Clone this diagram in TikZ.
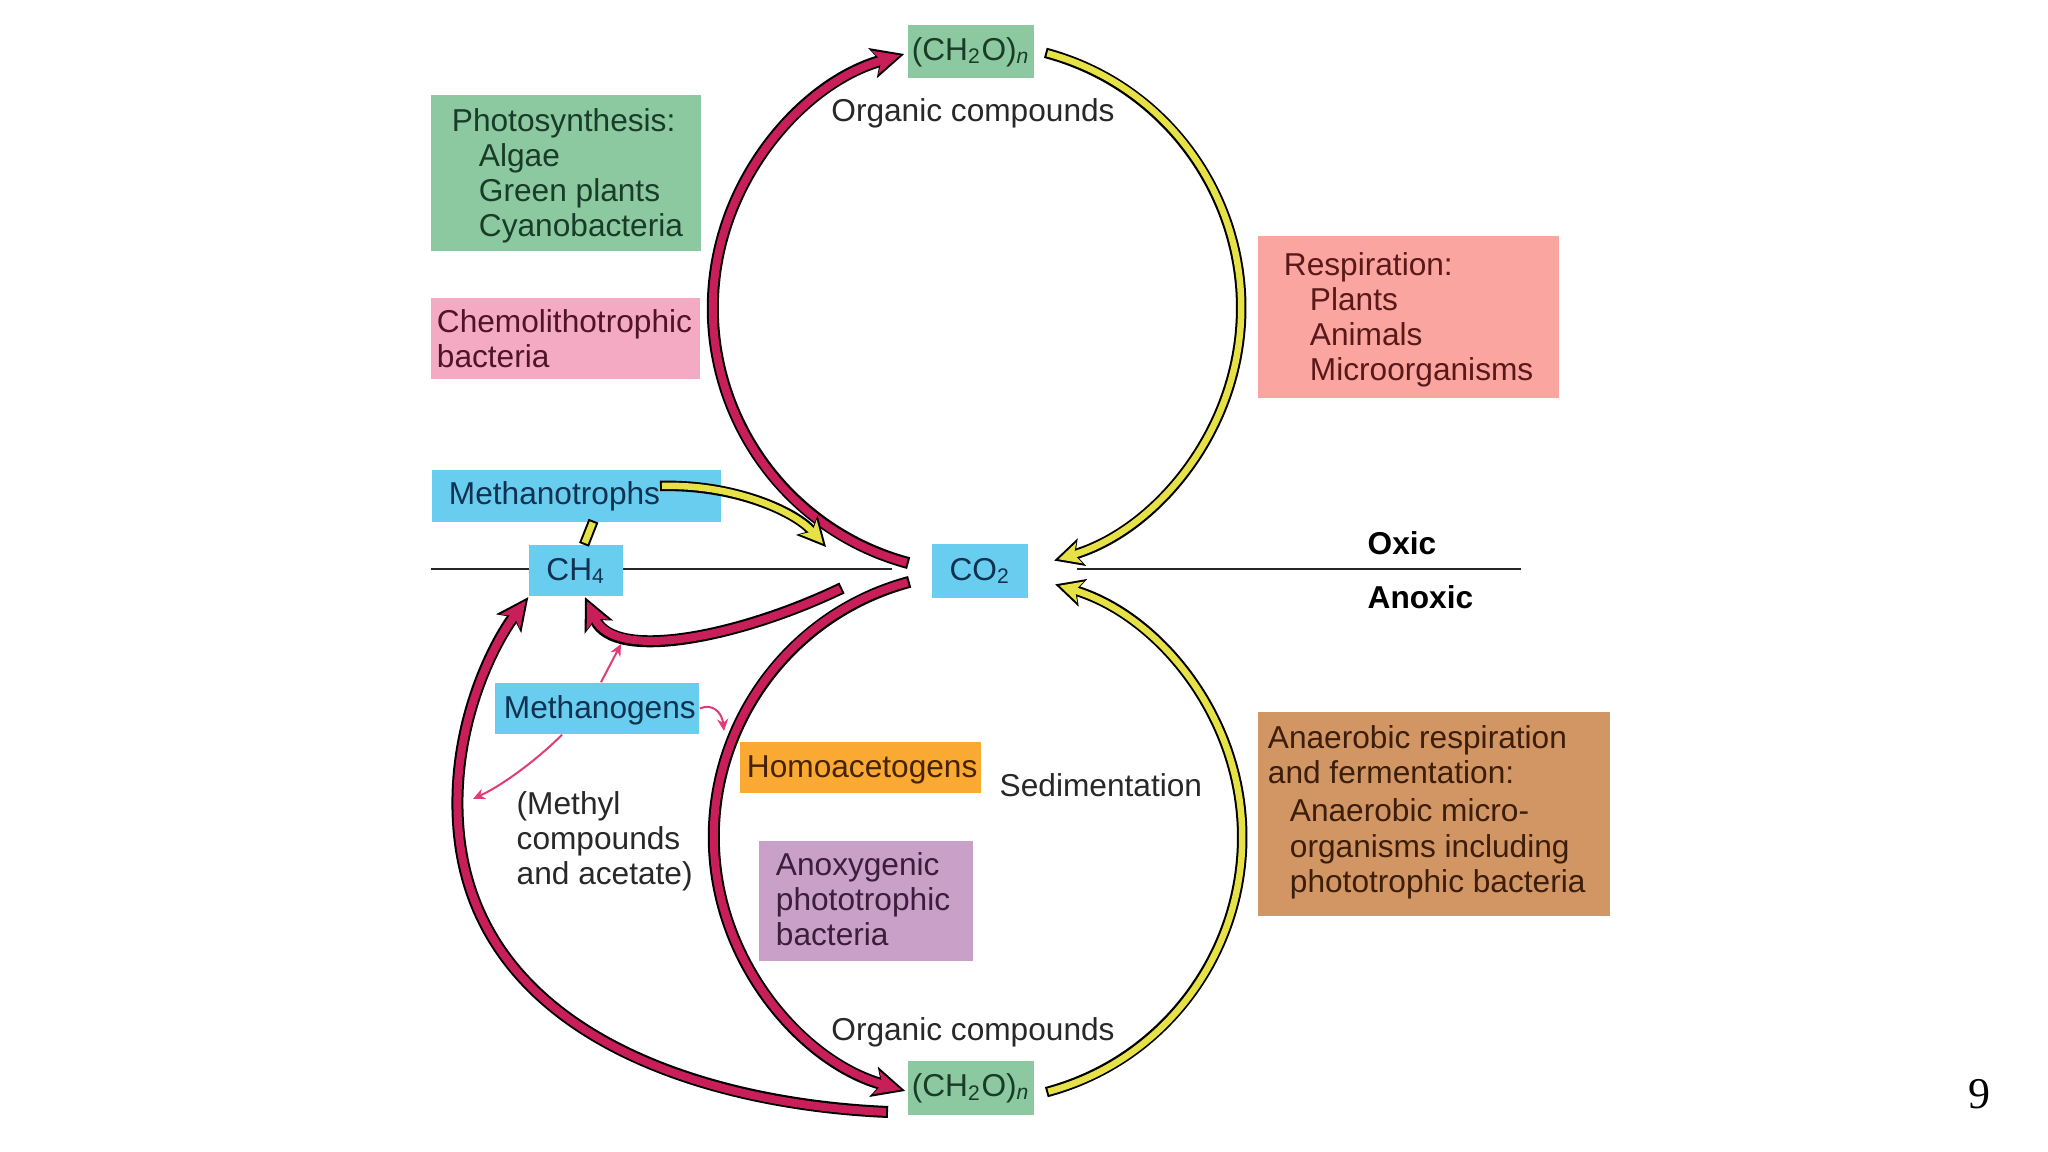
\documentclass[tikz,border=0pt]{standalone}
\usepackage{fontspec}
\setmainfont{Liberation Sans}
\newfontfamily\pnumfont{Liberation Serif}
\usetikzlibrary{arrows.meta,calc}
\definecolor{cgreen}{RGB}{140,201,160}
\definecolor{cpink}{RGB}{245,170,195}
\definecolor{csalmon}{RGB}{250,165,160}
\definecolor{cblue}{RGB}{105,205,240}
\definecolor{corange}{RGB}{250,170,50}
\definecolor{cpurple}{RGB}{200,160,200}
\definecolor{ctan}{RGB}{210,150,100}
\definecolor{arrred}{RGB}{200,30,90}
\definecolor{arryel}{RGB}{230,225,70}
\definecolor{thinpink}{RGB}{225,60,120}
\definecolor{tdark}{RGB}{40,40,40}
\definecolor{tgreen}{RGB}{25,60,40}
\definecolor{tpink}{RGB}{80,20,40}
\definecolor{tsalmon}{RGB}{90,25,25}
\definecolor{tblue}{RGB}{15,50,80}
\definecolor{torange}{RGB}{70,35,0}
\definecolor{tpurple}{RGB}{60,30,60}
\definecolor{ttan}{RGB}{60,30,10}
\tikzset{
  txt/.style={inner sep=0pt, font=\fontsize{9}{10}\selectfont, text=tdark},
  lbl/.style={txt, align=left, anchor=west},
  bx/.style={inner sep=0pt, draw=none, font=\fontsize{9}{10}\selectfont, text=tdark},
  redarr/.style={draw=arrred, line width=0.08cm, line cap=butt,
    shorten <=0.02cm, shorten >=0.045cm,
    -{Stealth[length=0.26cm, width=0.245cm, inset=0.07cm, line width=0pt]},
    preaction={draw=black, line width=0.12cm, shorten <=0cm, shorten >=0cm,
      -{Stealth[length=0.33cm, width=0.315cm, inset=0.08cm, line width=0pt]}}},
  yelarr/.style={draw=arryel, line width=0.065cm, line cap=butt,
    shorten <=0.02cm, shorten >=0.045cm,
    -{Stealth[length=0.22cm, width=0.22cm, inset=0.06cm, line width=0pt]},
    preaction={draw=black, line width=0.105cm, shorten <=0cm, shorten >=0cm,
      -{Stealth[length=0.29cm, width=0.29cm, inset=0.07cm, line width=0pt]}}},
  yelbar/.style={draw=arryel, line width=0.065cm, line cap=butt,
    shorten <=0.02cm, shorten >=0.02cm,
    preaction={draw=black, line width=0.105cm, shorten <=0cm, shorten >=0cm}},
  thinarr/.style={draw=thinpink, line width=0.02cm,
    -{Stealth[length=0.12cm, width=0.11cm]}},
  divline/.style={draw=black!85, line width=0.025cm}
}
\begin{document}
\begin{tikzpicture}[x=0.01cm,y=0.01cm]
\useasboundingbox (0,0) rectangle (2048,1152);
\fill[white] (0,0) rectangle (2048,1152);

% oxic / anoxic boundary
\coordinate (lineL) at (431,583);
\coordinate (lineM) at (892,583);
\coordinate (lineR1) at (1077,583);
\coordinate (lineR2) at (1521,583);
\draw[divline] (lineL) -- (lineM);
\draw[divline] (lineR1) -- (lineR2);

% boxes
\node[bx, fill=cgreen, text=tgreen, minimum width=1.26cm, minimum height=0.53cm] (topch) at (971,1100) {(CH\textsubscript{2}O)\textsubscript{\itshape n}};
\node[bx, fill=cgreen, text=tgreen, minimum width=1.26cm, minimum height=0.53cm] (botch) at (971,64) {(CH\textsubscript{2}O)\textsubscript{\itshape n}};
\node[txt] (orgtop) at (973,1039) {Organic compounds};
\node[txt] (orgbot) at (973,120) {Organic compounds};

\node[bx, fill=cgreen, minimum width=2.70cm, minimum height=1.56cm] (photo) at (566,979) {};
\node[lbl, text=tgreen] (phototxt) at ($(photo.west)+(21,-3)$) {Photosynthesis:\\\hspace*{0.27cm}Algae\\\hspace*{0.27cm}Green plants\\\hspace*{0.27cm}Cyanobacteria};

\node[bx, fill=cpink, minimum width=2.69cm, minimum height=0.81cm] (chemo) at (565.5,813.5) {};
\node[lbl, text=tpink] (chemotxt) at ($(chemo.west)+(6,0)$) {Chemolithotrophic\\bacteria};

\node[bx, fill=csalmon, minimum width=3.01cm, minimum height=1.62cm] (resp) at (1408.5,835) {};
\node[lbl, text=tsalmon] (resptxt) at ($(resp.west)+(26,-3)$) {Respiration:\\\hspace*{0.26cm}Plants\\\hspace*{0.26cm}Animals\\\hspace*{0.26cm}Microorganisms};

\node[bx, fill=cblue, minimum width=2.89cm, minimum height=0.52cm] (mtroph) at (576.5,656) {};
\node[lbl, text=tblue] (mtrophtxt) at ($(mtroph.west)+(17,0)$) {Methanotrophs};

\node[bx, fill=cblue, text=tblue, minimum width=0.94cm, minimum height=0.51cm] (ch4) at (576,581) {CH\textsubscript{4}};
\node[bx, fill=cblue, text=tblue, minimum width=0.96cm, minimum height=0.54cm] (co2) at (980,581) {CO\textsubscript{2}};

\node[bx, fill=cblue, minimum width=2.04cm, minimum height=0.51cm] (mgen) at (597,443.5) {};
\node[lbl, text=tblue] (mgentxt) at ($(mgen.west)+(9,-2)$) {Methanogens};

\node[bx, fill=corange, minimum width=2.41cm, minimum height=0.51cm] (homo) at (860.5,384.5) {};
\node[lbl, text=torange] (homotxt) at ($(homo.west)+(7,-2)$) {Homoacetogens};

\node[lbl] (sed) at (999,367) {Sedimentation};

\node[bx, fill=cpurple, minimum width=2.14cm, minimum height=1.20cm] (anoxy) at (866,251) {};
\node[lbl, text=tpurple] (anoxytxt) at ($(anoxy.west)+(17,2)$) {Anoxygenic\\phototrophic\\bacteria};

\node[lbl] (methyl) at (516,311) {(Methyl\\compounds\\and acetate)};

\node[bx, fill=ctan, minimum width=3.52cm, minimum height=2.04cm] (anaer) at (1434,338) {};
\node[lbl, text=ttan] (anaertxt) at ($(anaer.west)+(10,2)$) {Anaerobic respiration\\and fermentation:\\[1pt]\hspace*{0.22cm}Anaerobic micro-\\\hspace*{0.22cm}organisms including\\\hspace*{0.22cm}phototrophic bacteria};

\node[lbl, text=black, font=\fontsize{9}{10}\selectfont\bfseries] (oxic) at (1367,609) {Oxic};
\node[lbl, text=black, font=\fontsize{9}{10}\selectfont\bfseries] (anoxic) at (1367,555) {Anoxic};

\node[inner sep=0pt, font=\pnumfont\fontsize{12.5}{14}\selectfont] (pnum) at (1979,58) {9};

% main cycles
\coordinate (c1) at (977,844);
\coordinate (c2) at (978,315);
\draw[redarr] ($(c1)+(255:2.64cm)$) arc[start angle=255, end angle=106, radius=2.64cm];
\draw[yelarr] ($(c1)+(75:2.64cm)$) arc[start angle=75, end angle=-73, radius=2.64cm];
\draw[redarr] ($(c2)+(105:2.64cm)$) arc[start angle=105, end angle=254, radius=2.64cm];
\draw[yelarr] ($(c2)+(-75:2.64cm)$) arc[start angle=-75, end angle=73, radius=2.64cm];

% methane branch
\coordinate (mtS) at (660,666);
\coordinate (mtE) at (826,605);
\draw[yelarr] (mtS) .. controls (735,668) and (795,640) .. (mtE);
\draw[yelbar] ($(ch4.north)+(8,0)$) -- ($(mtroph.south)+(17,2)$);

\coordinate (rS) at (842,564);
\draw[redarr] (rS) .. controls (740,515) and (615,490) .. ($(ch4.south)+(9,0)$);

\coordinate (lS) at (888,40);
\draw[redarr] (lS) .. controls (700,48) and (470,120) .. (458,330) .. controls (452,430) and (495,510) .. (ch4.south west);

% thin arrows from methanogens
\draw[thinarr] ($(mgen.north)+(4,0)$) -- (621,508);
\draw[thinarr] (mgen.east) .. controls (712,449) and (722,440) .. (724,421);
\draw[thinarr] ($(mgen.south)+(-35,0)$) .. controls (540,395) and (505,368) .. (473,353);
\end{tikzpicture}
\end{document}
